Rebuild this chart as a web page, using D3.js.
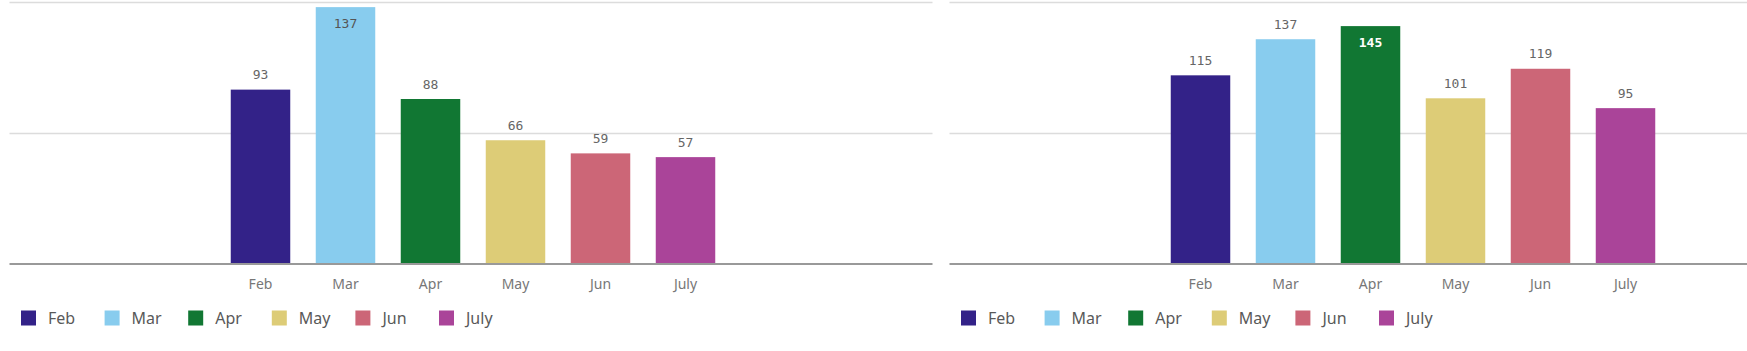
<!DOCTYPE html>
<html>
<head>
<meta charset="utf-8">
<script src="https://cdn.jsdelivr.net/npm/d3@7"></script>
<style>
  html, body { margin: 0; padding: 0; background: #fff; }
  svg { display: block; }
</style>
</head>
<body>
<svg id="chart" width="1747" height="351"></svg>
<script>
// Data
var months = ["Feb", "Mar", "Apr", "May", "Jun", "July"];
var colors = ["#332288", "#88ccee", "#117733", "#ddcc77", "#cc6677", "#aa4499"];
var valuesLeft = [93, 137, 88, 66, 59, 57];
var valuesRight = [115, 137, 145, 101, 119, 95];
var ticksLeft = [0, 70, 140];
var ticksRight = [0, 80, 160];

var svg = d3.select("#chart"),
    panelWidth = 923,
    plotTop = 1.5,
    plotBottom = 264,
    step = 85;

function drawPanel(x0, values, ticks) {
    var g = svg.append("g"),
        cx = x0 + panelWidth / 2 + 2,
        x = d3.scaleBand()
            .domain(months)
            .range([cx - step * months.length / 2, cx + step * months.length / 2])
            .paddingInner(0.3)
            .paddingOuter(0.15),
        y = d3.scaleLinear()
            .domain([ticks[0], ticks[ticks.length - 1]])
            .range([plotBottom, plotTop]);

    // grid lines (baseline drawn later, on top of bars)
    g.selectAll(".grid")
        .data(ticks.slice(1))
        .enter()
        .append("line")
        .attr("x1", x0)
        .attr("x2", x0 + panelWidth)
        .attr("y1", function(d) { return Math.round(y(d)) + 0.5; })
        .attr("y2", function(d) { return Math.round(y(d)) + 0.5; })
        .style("stroke", "#dcdcdc")
        .style("stroke-width", 1.5);

    g.selectAll(".bar")
        .data(values)
        .enter()
        .append("rect")
        .attr("x", function(d, i) { return x(months[i]); })
        .attr("y", function(d) { return y(d); })
        .attr("width", x.bandwidth())
        .attr("height", function(d) { return plotBottom - y(d); })
        .style("fill", function(d, i) { return colors[i]; });

    // baseline
    g.append("line")
        .attr("x1", x0)
        .attr("x2", x0 + panelWidth)
        .attr("y1", plotBottom)
        .attr("y2", plotBottom)
        .style("stroke", "#999")
        .style("stroke-width", 2);

    // value labels: above the bar, or inside when there is no room
    g.selectAll(".value")
        .data(values)
        .enter()
        .append("text")
        .each(function(d, i) {
            var top = y(d),
                inside = top - 15 < 14,
                c = d3.hsl(colors[i]),
                dark = c.l < 0.5;
            d3.select(this)
                .attr("x", x(months[i]) + x.bandwidth() / 2)
                .attr("y", inside ? top + 16 : top - 15)
                .attr("dy", "0.35em")
                .style("fill", inside && dark ? "#fff" : (inside ? "#555" : "#666"))
                .style("font-weight", inside && dark ? "bold" : "normal");
        })
        .attr("text-anchor", "middle")
        .style("font-family", "'DejaVu Sans Mono', monospace")
        .style("font-size", "13px")
        .text(function(d) { return d; });

    // category labels
    g.append("g")
        .attr("transform", "translate(0," + plotBottom + ")")
        .call(d3.axisBottom(x).tickSize(0).tickPadding(15))
        .call(function(a) {
            a.select(".domain").remove();
            a.selectAll("text")
                .style("font-family", "'Noto Sans', sans-serif")
                .style("font-size", "14px")
                .style("fill", "#777");
        });

    // legend
    var items = g.selectAll(".legend")
        .data(months)
        .enter()
        .append("g")
        .attr("transform", function(d, i) { return "translate(" + (x0 + 11.5 + i * 83.6) + ",310.5)"; });
    items.append("rect")
        .attr("width", 15)
        .attr("height", 15)
        .style("fill", function(d, i) { return colors[i]; });
    items.append("text")
        .attr("x", 27)
        .attr("y", 7.5)
        .attr("dy", "0.35em")
        .style("font-family", "'Noto Sans', sans-serif")
        .style("font-size", "16px")
        .style("fill", "#595959")
        .text(function(d) { return d; });
}

drawPanel(9.5, valuesLeft, ticksLeft);
drawPanel(949.5, valuesRight, ticksRight);
</script>
</body>
</html>
